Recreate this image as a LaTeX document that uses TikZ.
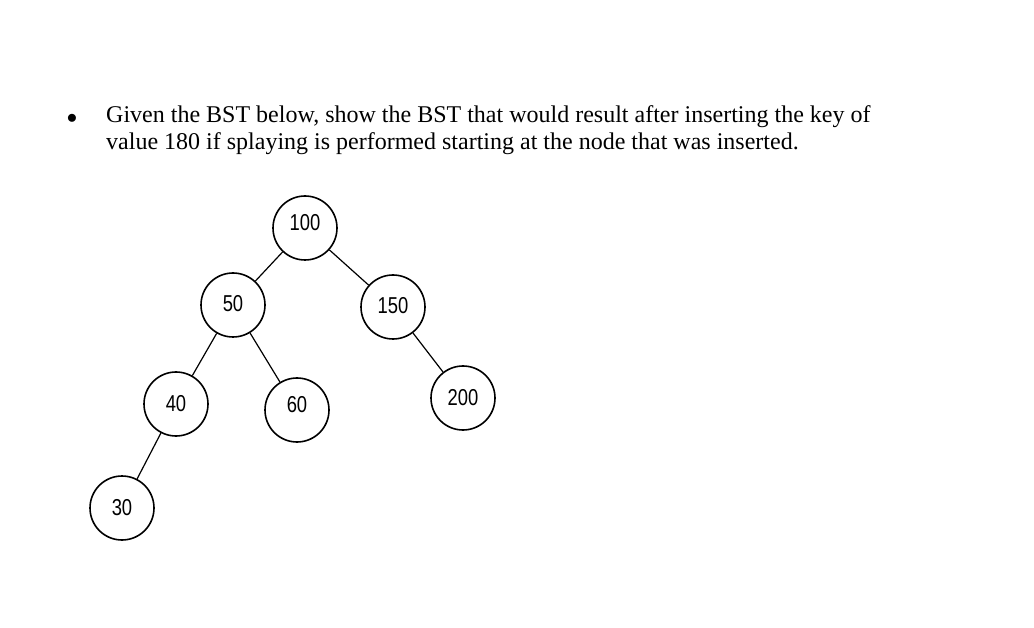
\documentclass[tikz,border=0pt]{standalone}
\usepackage{fontspec}
\setmainfont{Liberation Serif}
\newfontfamily\numfont[FakeStretch=0.8]{Liberation Sans}
\begin{document}
\begin{tikzpicture}[x=1pt,y=-1pt,
  bst/.style={circle,draw,line width=1.6pt,minimum size=64pt,inner sep=0pt,font=\numfont\fontsize{23}{23}\selectfont},
  edge/.style={line width=1.2pt}]
\useasboundingbox (0,0) rectangle (1034,628);
\node[font=\fontsize{20}{20}\selectfont] (bul) at (72,119) {$\bullet$};
\node[anchor=north west,align=left,inner sep=0pt,font=\fontsize{24}{27}\selectfont] (txt) at (106,105)
 {Given the BST below, show the BST that would result after inserting the key of\\value 180 if splaying is performed starting at the node that was inserted.};
\node[bst] (n100) at (305,228) {\raisebox{12pt}{100}};
\node[bst] (n50) at (233,305) {\raisebox{3pt}{50}};
\node[bst] (n150) at (393,307) {\raisebox{3pt}{150}};
\node[bst] (n40) at (176,404) {\raisebox{0pt}{40}};
\node[bst] (n60) at (297,410) {\raisebox{12pt}{60}};
\node[bst] (n200) at (463,398) {\raisebox{2pt}{200}};
\node[bst] (n30) at (122,508) {\raisebox{0pt}{30}};
\draw[edge] (n100) -- (n50);
\draw[edge] (n100) -- (n150);
\draw[edge] (n50) -- (n40);
\draw[edge] (n50) -- (n60);
\draw[edge] (n150) -- (n200);
\draw[edge] (n40) -- (n30);
\end{tikzpicture}
\end{document}
